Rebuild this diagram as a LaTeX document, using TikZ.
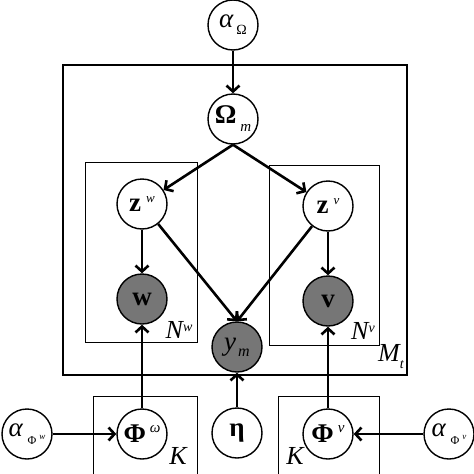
\documentclass[tikz,border=0pt]{standalone}
\usepackage{fontspec}
\setmainfont{Liberation Serif}
\usetikzlibrary{arrows.meta}
\definecolor{obsgrey}{RGB}{118,118,118}
\newcommand\lowtxt[3]{\raisebox{#1}{\fontsize{#2}{#2}\selectfont #3}}
\begin{document}
\begin{tikzpicture}[x=1pt,y=-1pt,
  latent/.style={circle, draw, line width=1.4pt, minimum size=50pt, inner sep=0pt, fill=white,
    font=\fontsize{27}{27}\selectfont},
  obs/.style={latent, fill=obsgrey},
  arr/.style={line width=2.6pt, -{Straight Barb[length=6pt,width=13pt]}},
  plate/.style={draw, line width=0.9pt},
  bigplate/.style={draw, line width=2.6pt},
  platelabel/.style={font=\fontsize{26}{26}\selectfont\itshape, inner sep=0pt}]
\useasboundingbox (0,0) rectangle (474,474);
% plates
\draw[bigplate] (63,65) rectangle (407,375);
\draw[plate] (85,162) rectangle (197,342);
\draw[plate] (269,165) rectangle (379,345);
\draw[plate] (93,396) -- (93,480) (197,396) -- (197,480) (93,396) -- (197,396);
\draw[plate] (278,396) -- (278,480) (379,396) -- (379,480) (278,396) -- (379,396);
% plate labels
\node[platelabel] (lNw) at (179,330) {N\lowtxt{7pt}{14}{w}};
\node[platelabel] (lNv) at (363,331) {N\lowtxt{7pt}{14}{v}};
\node[platelabel] (lMt) at (391,357) {M\lowtxt{-7pt}{14}{t}};
\node[platelabel] (lK1) at (178,456) {K};
\node[platelabel] (lK2) at (295,456) {K};
% nodes
\node[latent] (aO) at (233,25) {{\itshape α}\hspace{3pt}\lowtxt{-7pt}{14}{Ω}};
\node[latent] (Om) at (233,119) {{\bfseries Ω}\hspace{4pt}\lowtxt{-8pt}{15}{\itshape m}};
\node[latent] (zw) at (142,204) {{\bfseries z}\hspace{5pt}\lowtxt{9pt}{13}{\itshape w}};
\node[latent] (zv) at (328,206) {{\bfseries z}\hspace{5pt}\lowtxt{9pt}{13}{\itshape v}};
\node[obs] (w) at (142,299) {\bfseries w};
\node[obs] (v) at (328,301) {\bfseries v};
\node[obs] (ym) at (237,347) {{\itshape y}\hspace{2pt}\lowtxt{-6pt}{16}{\itshape m}};
\node[latent] (Pw) at (142,434) {{\bfseries Φ}\hspace{4pt}\lowtxt{10pt}{15}{\itshape ω}};
\node[latent] (eta) at (237,433) {\bfseries η};
\node[latent] (Pv) at (328,434) {{\bfseries Φ}\hspace{4pt}\lowtxt{10pt}{15}{\itshape v}};
\node[latent] (aPw) at (27,434) {{\itshape α}\hspace{5pt}\lowtxt{-8pt}{12}{Φ\hspace{3pt}\lowtxt{5pt}{9}{\itshape w}}};
\node[latent] (aPv) at (449,434) {{\itshape α}\hspace{5pt}\lowtxt{-8pt}{12}{Φ\hspace{3pt}\lowtxt{5pt}{9}{\itshape v}}};
% edges
\draw[arr] (aO) -- (Om);
\draw[arr] (Om.south) -- (zw);
\draw[arr] (Om.south) -- (zv);
\draw[arr] (zw) -- (w);
\draw[arr] (zv) -- (v);
\draw[arr] (zw) -- (ym.north);
\draw[arr] (zv) -- (ym.north);
\draw[arr] (eta) -- (ym);
\draw[arr] (Pw) -- (w);
\draw[arr] (Pv) -- (v);
\draw[arr] (aPw) -- (Pw);
\draw[arr] (aPv) -- (Pv);
\end{tikzpicture}
\end{document}
